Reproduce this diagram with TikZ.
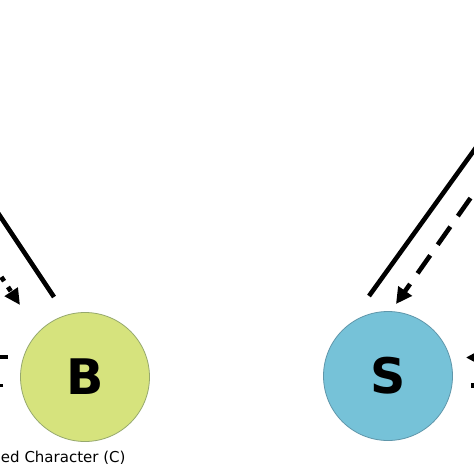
\documentclass[tikz,border=0pt]{standalone}
\usepackage{fontspec}
\setmainfont{DejaVu Sans}
\usetikzlibrary{arrows.meta}
\definecolor{bfill}{RGB}{214,227,125}
\definecolor{bline}{RGB}{150,168,110}
\definecolor{sfill}{RGB}{118,194,216}
\definecolor{sline}{RGB}{95,150,170}
\tikzset{
  agent/.style={circle, minimum size=129pt, inner sep=0pt, line width=0.8pt,
    font=\fontsize{49}{51}\selectfont\bfseries},
  solidlink/.style={line width=4.6pt, line cap=butt},
  dottedlink/.style={line width=4.6pt, dash pattern=on 5pt off 7pt,
    -{Triangle[length=16pt,width=15pt]}},
  dashedlink/.style={line width=4.6pt, dash pattern=on 22pt off 13pt,
    -{Triangle[length=16pt,width=16pt]}},
  arrowlink/.style={line width=4.6pt, -{Triangle[length=15pt,width=15pt]}},
  caption/.style={font=\fontsize{15}{17}\selectfont, inner sep=0pt}
}
\begin{document}
\begin{tikzpicture}[x=1pt,y=-1pt]
\useasboundingbox (0,0) rectangle (474,474);
\fill[white] (0,0) rectangle (474,474);

\node[agent, fill=bfill, draw=bline] (B) at (85,377) {B};
\node[agent, fill=sfill, draw=sline] (S) at (388,376) {S};

\node[caption, anchor=base west] (cap) at (0.8,462) {ed Character (C)};

% left side
\coordinate (l1a) at (-10,201);
\coordinate (l1b) at (54,297);
\draw[solidlink] (l1a) -- (l1b);
\coordinate (l2a) at (-12,257);
\coordinate (l2b) at (20,305);
\draw[dottedlink] (l2a) -- (l2b);
\coordinate (l3a) at (-20,357);
\coordinate (l3b) at (8,357);
\draw[solidlink] (l3a) -- (l3b);
\coordinate (l4a) at (-20,385.5);
\coordinate (l4b) at (3,385.5);
\draw[line width=3.5pt, dash pattern=on 3pt off 7pt, dash phase=0pt] (l4b) -- (l4a);

% right side
\coordinate (r1a) at (480,142);
\coordinate (r1b) at (369,296);
\draw[solidlink] (r1a) -- (r1b);
\coordinate (r2a) at (486,176);
\coordinate (r2b) at (396,304);
\draw[dashedlink, dash phase=8pt] (r2a) -- (r2b);
\coordinate (r3a) at (495,357.5);
\coordinate (r3b) at (466,357.5);
\draw[arrowlink] (r3a) -- (r3b);
\coordinate (r4a) at (471,385);
\coordinate (r4b) at (495,385);
\draw[line width=5pt] (r4a) -- (r4b);
\end{tikzpicture}
\end{document}
